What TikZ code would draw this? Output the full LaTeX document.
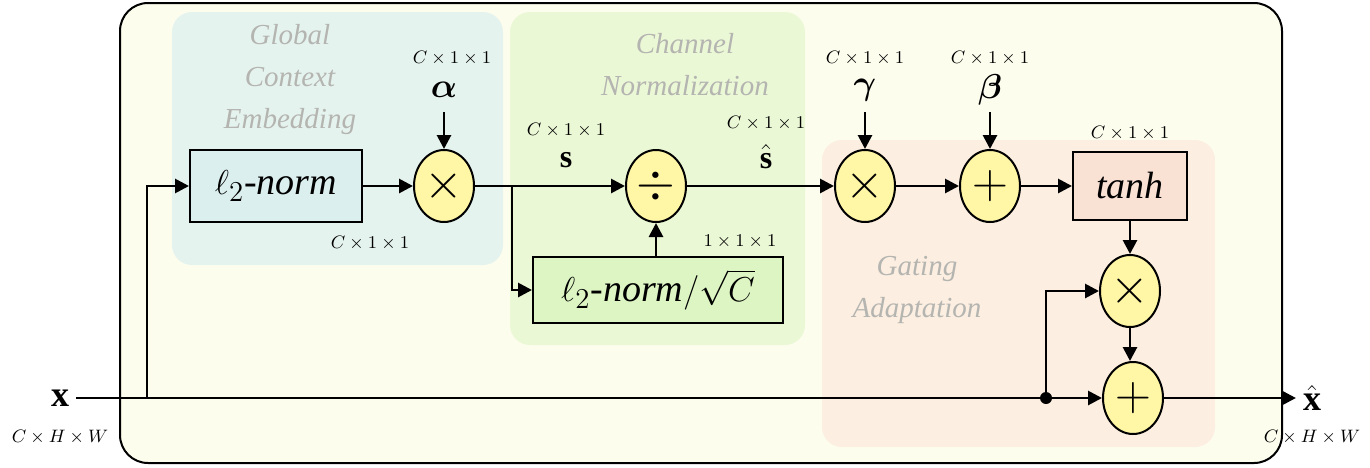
\documentclass[tikz,border=0pt]{standalone}
\usepackage{amsmath,amsbsy}
\usepackage{fontspec}
\setmainfont{Liberation Serif}
\usetikzlibrary{shapes.geometric,arrows.meta}
\definecolor{outerf}{HTML}{FDFDEE}
\definecolor{bluef}{HTML}{E5F3EF}
\definecolor{greenf}{HTML}{EBF8D6}
\definecolor{orangef}{HTML}{FCEEE0}
\definecolor{circf}{HTML}{FFF6A6}
\definecolor{boxa}{HTML}{DBEFEE}
\definecolor{boxb}{HTML}{DCF5C3}
\definecolor{boxc}{HTML}{F9E2D4}
\definecolor{titlec}{HTML}{B4B4B0}
\begin{document}
\begin{tikzpicture}[x=0.5pt,y=-0.5pt,
  op/.style={ellipse,draw,line width=1pt,fill=circf,minimum width=30pt,minimum height=36pt,inner sep=0pt,font=\fontsize{26}{26}\selectfont},
  blk/.style={draw,line width=1pt,inner sep=0pt,font=\fontsize{19}{19}\selectfont\itshape},
  dim/.style={font=\fontsize{9.5}{10}\selectfont},
  ttl/.style={text=titlec,font=\fontsize{14.5}{21}\selectfont\itshape,align=center},
  arr/.style={line width=1.4pt,-{Triangle[length=7pt,width=7pt]}},
  ln/.style={line width=1.4pt},
  greek/.style={font=\fontsize{16}{16}\selectfont}]
\useasboundingbox (0,0) rectangle (1370,467);
\fill[outerf,draw=black,line width=1pt,rounded corners=14pt] (120,3) rectangle (1282,463);
\fill[bluef,rounded corners=10pt] (172,12) rectangle (503,265);
\fill[greenf,rounded corners=10pt] (510,12) rectangle (805,345);
\fill[orangef,rounded corners=10pt] (822,140) rectangle (1215,447);
\node[ttl] (t1) at (290,80) {Global\\Context\\Embedding};
\node[ttl] (t2) at (685,65) {Channel\\Normalization};
\node[ttl] (t3) at (917,290) {Gating\\Adaptation};

\node[blk,fill=boxa,minimum width=86pt,minimum height=36pt] (n1) at (276,186) {$\ell_2$-norm};
\node[op] (m1) at (444,186) {$\times$};
\node[op] (dv) at (656,186) {$\div$};
\node[blk,fill=boxb,minimum width=125pt,minimum height=33pt] (n2) at (658,290) {$\ell_2$-norm$/\sqrt{C}$};
\node[op] (m2) at (865,186) {$\times$};
\node[op] (p1) at (990,186) {$+$};
\node[blk,fill=boxc,minimum width=57pt,minimum height=34pt] (th) at (1130,186) {tanh};
\node[op] (m3) at (1130,291) {$\times$};
\node[op] (p2) at (1133,398) {$+$};

\node[dim] (d1) at (452,58) {$C\times1\times1$};
\node[greek] (al) at (444,90) {$\boldsymbol{\alpha}$};
\node[dim] (d2) at (370,243) {$C\times1\times1$};
\node[dim] (d3) at (566,130) {$C\times1\times1$};
\node[greek] (s) at (566,160) {$\mathbf{s}$};
\node[dim] (d4) at (740,242) {$1\times1\times1$};
\node[dim] (d5) at (766,123) {$C\times1\times1$};
\node[greek] (sh) at (766,157) {$\hat{\mathbf{s}}$};
\node[dim] (d6) at (865,58) {$C\times1\times1$};
\node[greek] (ga) at (865,90) {$\boldsymbol{\gamma}$};
\node[dim] (d7) at (990,58) {$C\times1\times1$};
\node[greek] (be) at (990,90) {$\boldsymbol{\beta}$};
\node[dim] (d8) at (1130,133) {$C\times1\times1$};
\node[font=\fontsize{18}{18}\selectfont] (x) at (60,398) {$\mathbf{x}$};
\node[dim] (dx) at (60,437) {$C\times H\times W$};
\node[font=\fontsize{18}{18}\selectfont] (xh) at (1312,398) {$\hat{\mathbf{x}}$};
\node[dim] (dxh) at (1312,437) {$C\times H\times W$};

\coordinate (a0) at (444,112);
\coordinate (g0) at (865,112);
\coordinate (b0) at (990,112);
\coordinate (br) at (147,398);
\coordinate (sp) at (512,186);
\coordinate (dot) at (1046,398);

\draw[ln] (x.east) -- (br) -- (dot);
\draw[arr] (br) |- (n1.west);
\draw[arr] (n1) -- (m1);
\draw[arr] (a0) -- (m1.north);
\draw[arr] (m1) -- (dv);
\draw[arr] (sp) |- (n2.west);
\draw[arr] (n2.north -| dv) -- (dv.south);
\draw[arr] (dv) -- (m2);
\draw[arr] (g0) -- (m2.north);
\draw[arr] (b0) -- (p1.north);
\draw[arr] (m2) -- (p1);
\draw[arr] (p1) -- (th);
\draw[arr] (th) -- (m3);
\draw[arr] (m3) -- (p2.north -| m3);
\draw[arr] (dot) |- (m3.west);
\draw[arr] (dot) -- (p2);
\draw[arr] (p2) -- (xh.west);
\fill (dot) circle (6);
\end{tikzpicture}
\end{document}
